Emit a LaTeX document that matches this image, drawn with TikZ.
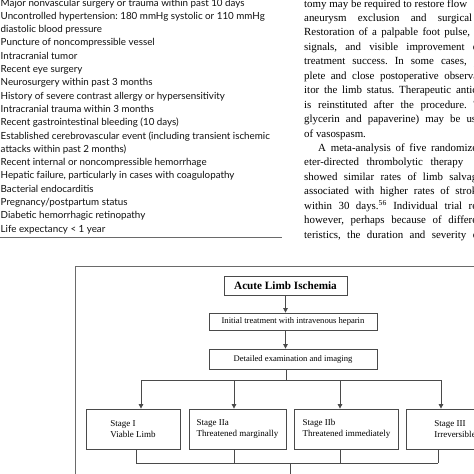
\documentclass[tikz,border=0pt]{standalone}
\usepackage{fontspec}
\setmainfont{Liberation Serif}
\newfontfamily\gillfont{Lato}
\usetikzlibrary{arrows.meta}
\definecolor{linegray}{HTML}{4A4A4A}
\definecolor{framegray}{HTML}{6A6A6A}
\definecolor{tabtext}{HTML}{111111}
\frenchspacing
\tikzset{
  tabline/.style={anchor=base west, inner sep=0pt, font=\gillfont\fontsize{9.8}{11}\selectfont, text=tabtext},
  bodyline/.style={anchor=base west, inner sep=0pt, font=\fontsize{10.9}{13}\selectfont},
  flowbox/.style={draw=linegray, line width=0.8pt, inner sep=0pt, fill=white, font=\fontsize{8.6}{10}\selectfont},
  stagebox/.style={flowbox, font=\fontsize{9}{11}\selectfont, align=left, minimum height=40pt},
  conn/.style={draw=linegray, line width=0.8pt},
  arr/.style={conn, -{Triangle[length=4.5pt,width=4.5pt]}},
  rulestyle/.style={draw=framegray, line width=0.9pt},
}
\newcommand\mybodyln[4]{\node[bodyline] (#1) at (#2) {\makebox[#3pt][s]{#4}};}
\begin{document}
\begin{tikzpicture}[x=1pt,y=-1pt]
\useasboundingbox (0,0) rectangle (474,474);
\fill[white] (0,0) rectangle (474,474);
% left column table
\foreach \t [count=\i from 0] in {
  {Major nonvascular surgery or trauma within past 10 days},
  {Uncontrolled hypertension: 180 mmHg systolic or 110 mmHg},
  {diastolic blood pressure},
  {Puncture of noncompressible vessel},
  {Intracranial tumor},
  {Recent eye surgery},
  {Neurosurgery within past 3 months},
  {History of severe contrast allergy or hypersensitivity},
  {Intracranial trauma within 3 months},
  {Recent gastrointestinal bleeding (10 days)},
  {Established cerebrovascular event (including transient ischemic},
  {attacks within past 2 months)},
  {Recent internal or noncompressible hemorrhage},
  {Hepatic failure, particularly in cases with coagulopathy},
  {Bacterial endocarditis},
  {Pregnancy/postpartum status},
  {Diabetic hemorrhagic retinopathy},
  {Life expectancy < 1 year}}
  \node[tabline] (tab\i) at (0.5, 6+13.3*\i) {\t};
\coordinate (ruleA) at (0,237);
\coordinate (ruleB) at (282,237);
\draw[rulestyle] (ruleA) -- (ruleB);
% right column body text
\mybodyln{r1}{304,7}{163}{tomy may be required to restore flow}
\mybodyln{r2}{304,21.4}{168}{aneurysm exclusion and surgical}
\mybodyln{r3}{304,35.9}{166}{Restoration of a palpable foot pulse,}
\mybodyln{r4}{304,50.3}{174}{signals, and visible improvement o}
\mybodyln{r5}{304,64.8}{175}{treatment success. In some cases, p}
\mybodyln{r6}{304,79.2}{174}{plete and close postoperative observa}
\mybodyln{r7}{304,93.7}{173}{itor the limb status. Therapeutic antic}
\mybodyln{r8}{304,108.1}{176}{is reinstituted after the procedure. T}
\mybodyln{r9}{304,122.6}{172}{glycerin and papaverine) may be us}
\node[bodyline] (r10) at (304,137) {of vasospasm.};
\mybodyln{r11}{318,151.5}{159}{A meta-analysis of five randomize}
\mybodyln{r12}{304,165.9}{159}{eter-directed thrombolytic therapy}
\mybodyln{r13}{304,180.4}{173}{showed similar rates of limb salvag}
\mybodyln{r14}{304,194.8}{173}{associated with higher rates of strok}
\mybodyln{r15}{304,209.3}{173}{within 30 days.\textsuperscript{56} Individual trial re}
\mybodyln{r16}{304,223.7}{173}{however, perhaps because of differe}
\mybodyln{r17}{304,238.2}{174}{teristics, the duration and severity o}
% figure frame
\coordinate (frameBL) at (75,480);
\coordinate (frameTR) at (480,266);
\draw[rulestyle] (frameBL) |- (frameTR);
% flowchart
\node[flowbox, font=\bfseries\fontsize{11.2}{13}\selectfont, minimum width=123pt, minimum height=19pt] (ali) at (285.5,285.5) {Acute Limb Ischemia};
\node[flowbox, minimum width=168pt, minimum height=17pt] (init) at (293,321.5) {Initial treatment with intravenous heparin};
\node[flowbox, minimum width=168pt, minimum height=20pt] (det) at (293,359) {Detailed examination and imaging};
\node[stagebox, minimum width=94pt] (s1) at (133,429) {Stage I\\Viable Limb};
\node[stagebox, minimum width=97pt] (s2) at (237.5,429) {Stage IIa\\Threatened marginally};
\node[stagebox, minimum width=104pt] (s3) at (346.5,429) {Stage IIb\\Threatened immediately};
\node[stagebox, minimum width=98pt] (s4) at (455,429) {Stage III\\Irreversible};
\draw[arr] (ali.south) -- (ali.south |- init.north);
\draw[arr] (init.south -| ali.south) -- (ali.south |- det.north);
\coordinate (hub) at (286,380);
\draw[conn] (det.south -| hub) -- (hub);
\coordinate (t1) at (141,380);
\coordinate (t2) at (234,380);
\coordinate (t3) at (340,380);
\coordinate (t4) at (441,380);
\draw[conn] (t1) -- (t4);
\foreach \k in {1,2,3,4} \draw[arr] (t\k) -- (t\k |- s\k.north);
\coordinate (u1) at (136,463);
\coordinate (u2) at (234,463);
\coordinate (u3) at (340,463);
\coordinate (u4) at (438,463);
\foreach \k in {1,2,3,4} \draw[conn] (u\k |- s\k.south) -- (u\k);
\draw[conn] (u1) -- (u4);
\coordinate (out) at (290,463);
\coordinate (outend) at (290,480);
\draw[conn] (out) -- (outend);
\end{tikzpicture}
\end{document}
